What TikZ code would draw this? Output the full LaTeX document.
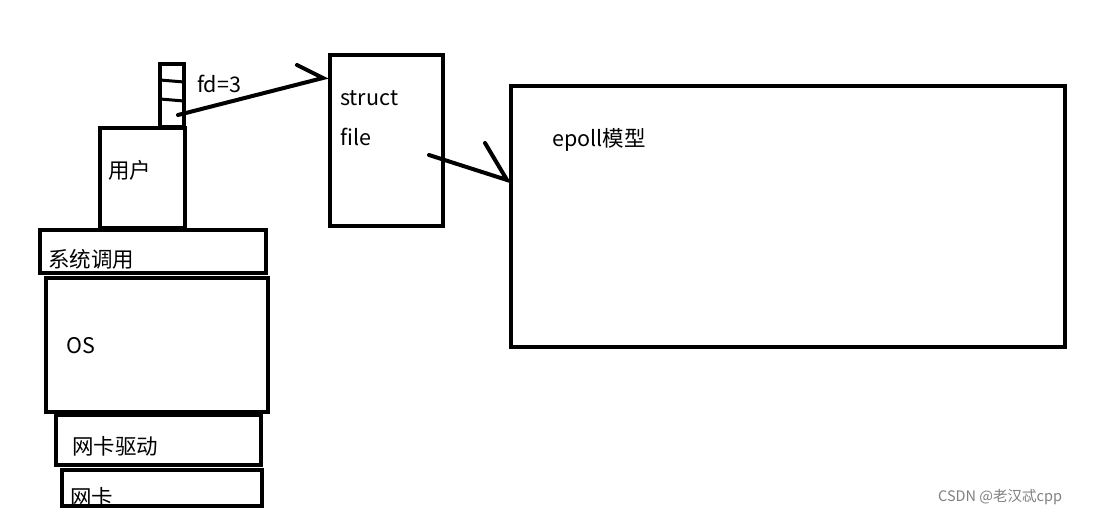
\documentclass[tikz,border=0pt]{standalone}
\usepackage{fontspec}
\setmainfont{Noto Sans CJK SC}
\begin{document}
\begin{tikzpicture}[x=1pt,y=-1pt,
  bx/.style={draw,line width=4pt},
  ln/.style={line width=4pt,line cap=round},
  lbl/.style={anchor=west,inner sep=0pt,font=\fontsize{21.5}{24}\selectfont}]
\useasboundingbox (0,0) rectangle (1101,516);
\draw[bx] (160,64) rectangle (184,127);
\draw[line width=3pt] (160,80) -- (184,82);
\draw[line width=3pt] (160,99) -- (184,101);
\draw[bx] (100,128) rectangle (185,228);
\draw[bx] (40,230) rectangle (266,273);
\draw[bx] (46,278) rectangle (268,412);
\draw[bx] (56,415) rectangle (261,465);
\draw[bx] (62,470) rectangle (262,506);
\draw[bx] (330,55) rectangle (443,226);
\draw[bx] (511,86) rectangle (1065,347);
\coordinate (s) at (178,115); \coordinate (t) at (323,78); \coordinate (h) at (297,65);
\draw[ln] (s) -- (t) -- (h);
\coordinate (s2) at (429,155); \coordinate (t2) at (507,180); \coordinate (h2) at (485,143);
\draw[ln] (s2) -- (t2) -- (h2);
\node[lbl] (fd) at (197,84) {fd=3};
\node[lbl] (st) at (340,98) {struct};
\node[lbl] (fi) at (340,137) {file};
\node[lbl] (ep) at (552,140) {epoll模型};
\node[lbl] (us) at (108,170) {用户};
\node[lbl] (sy) at (48,259) {系统调用};
\node[lbl] (os) at (66,346) {OS};
\node[lbl] (dr) at (72,446) {网卡驱动};
\begin{scope}
\clip (64,472) rectangle (260,504);
\node[lbl] (nc) at (70,497) {网卡};
\end{scope}
\node[lbl,font=\fontsize{14.5}{16}\selectfont,text=gray] (wm) at (938,497) {CSDN @老汉忒cpp};
\end{tikzpicture}
\end{document}
